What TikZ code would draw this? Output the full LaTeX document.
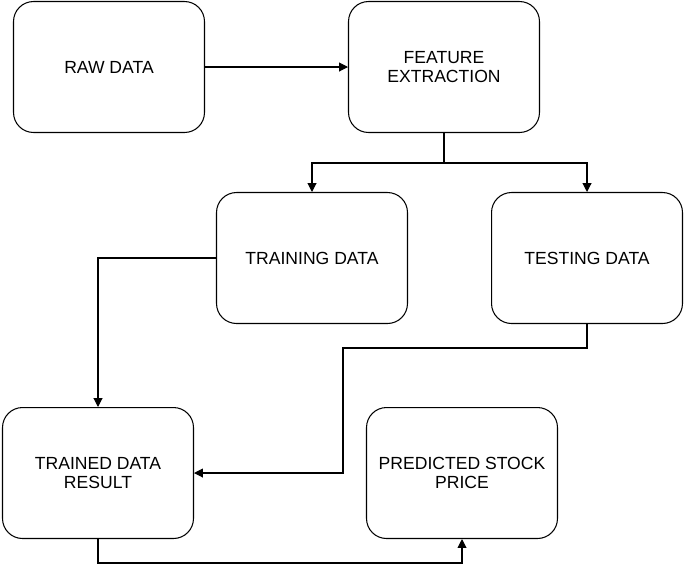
\documentclass[tikz,border=0pt]{standalone}
\usepackage{fontspec}
\setmainfont{Liberation Sans}
\usetikzlibrary{arrows.meta}
\begin{document}
\begin{tikzpicture}[x=0.02cm,y=-0.02cm,
  box/.style={draw,rounded corners=0.4cm,minimum width=3.82cm,minimum height=2.62cm,align=center,font=\fontsize{10}{11}\selectfont,line width=0.6pt},
  arr/.style={-{Triangle[length=5pt,width=5pt]},line width=0.6pt}]
\useasboundingbox (0,0) rectangle (685,566);
\node[box] (raw) at (109,67) {RAW DATA};
\node[box] (fe) at (444,67) {FEATURE\\EXTRACTION};
\node[box] (tr) at (312,258) {TRAINING DATA};
\node[box] (te) at (587,258) {TESTING DATA};
\node[box] (res) at (98,473) {TRAINED DATA\\RESULT};
\node[box] (pr) at (462,473) {PREDICTED STOCK\\PRICE};
\coordinate (s) at (444,163);
\draw[arr] (raw) -- (fe);
\draw[line width=0.6pt] (fe.south) -- (s);
\draw[arr] (s) -| (tr.north);
\draw[arr] (s) -| (te.north);
\draw[arr] (tr.west) -| (res.north);
\draw[arr] (te.south) |- (343,348) |- (res.east);
\draw[arr] (res.south) |- (280,563) -| (pr.south);
\end{tikzpicture}
\end{document}
